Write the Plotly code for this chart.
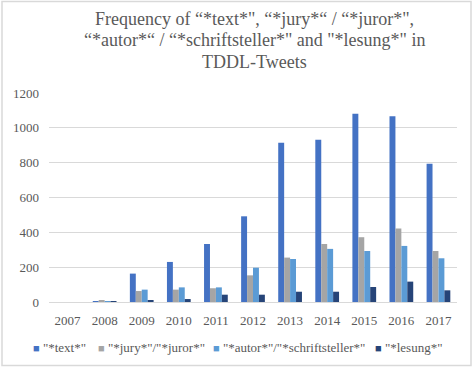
import plotly.graph_objects as go

years = ["2007", "2008", "2009", "2010", "2011", "2012", "2013", "2014", "2015", "2016", "2017"]
text_vals = [0, 3, 163, 230, 333, 492, 914, 932, 1081, 1066, 794]
jury_vals = [0, 8, 63, 71, 79, 153, 255, 333, 372, 422, 293]
autor_vals = [0, 4, 71, 84, 84, 197, 247, 305, 293, 322, 251]
lesung_vals = [0, 1, 11, 17, 42, 42, 59, 59, 86, 117, 67]

series_names = ['"*text*"', '"*jury*"/"*juror*"', '"*autor*"/"*schriftsteller*"', '"*lesung*"']
series_vals = [text_vals, jury_vals, autor_vals, lesung_vals]
colors = ["#4472C4", "#A5A5A5", "#5B9BD5", "#264478"]

tick_vals = [0, 200, 400, 600, 800, 1000, 1200]

title_lines = ["Frequency of “*text*\", “*jury*“ / “*juror*\",",
               "“*autor*“ / “*schriftsteller*\" and \"*lesung*\" in",
               "TDDL-Tweets"]

W, H = 474, 369
ML, MR, MT, MB = 49, 17, 93, 67
PW, PH = W - ML - MR, H - MT - MB


def px_x(p):
    return (p - ML) / PW


def px_y(p):
    return (H - MB - p) / PH


fig = go.Figure()
for name, vals, col in zip(series_names, series_vals, colors):
    fig.add_trace(go.Bar(x=years, y=vals, name=name, marker=dict(color=col, line=dict(width=0))))

font_family = "'Liberation Serif', 'Times New Roman', serif"
fig.update_layout(
    width=W, height=H,
    margin=dict(l=ML, r=MR, t=MT, b=MB, autoexpand=False),
    paper_bgcolor="white", plot_bgcolor="white",
    barmode="group", bargap=0.36, bargroupgap=0,
    font=dict(family=font_family, size=13, color="#595959"),
    showlegend=False,
    xaxis=dict(showgrid=False, showline=True, linecolor="#D9D9D9", linewidth=1,
               ticks="", ticklabelstandoff=6, tickfont=dict(size=13, color="#595959")),
    yaxis=dict(range=[0, 1200], tickvals=tick_vals, showgrid=True, gridcolor="#D9D9D9",
               gridwidth=1, zeroline=False, showline=False, ticks="", ticklabelstandoff=9,
               tickfont=dict(size=13, color="#595959")),
)

# Title (one annotation per line for Excel-like line spacing)
for line, cy in zip(title_lines, [19, 40.5, 62]):
    fig.add_annotation(text=line, xref="paper", yref="paper", x=px_x(254), y=px_y(cy),
                       xanchor="center", yanchor="middle", showarrow=False, align="center",
                       font=dict(family=font_family, size=18, color="#595959"))

# Legend (manual, Excel style)
legend_x = [31, 96, 211, 373]
for name, col, lx in zip(series_names, colors, legend_x):
    fig.add_annotation(text=f'<span style="color:{col};font-size:11px">■</span> {name}',
                       xref="paper", yref="paper", x=px_x(lx), y=px_y(347),
                       xanchor="left", yanchor="middle", showarrow=False,
                       font=dict(family=font_family, size=13, color="#595959"))

# Chart frame
fig.add_shape(type="rect", xref="paper", yref="paper",
              x0=px_x(2), x1=px_x(471), y0=px_y(365.5), y1=px_y(1.5),
              line=dict(color="#D9D9D9", width=1.5), fillcolor="rgba(0,0,0,0)", layer="below")

fig.write_html("out.html", config={"displayModeBar": False},
               post_script="document.body.style.margin='0';document.body.style.overflow='hidden';")
